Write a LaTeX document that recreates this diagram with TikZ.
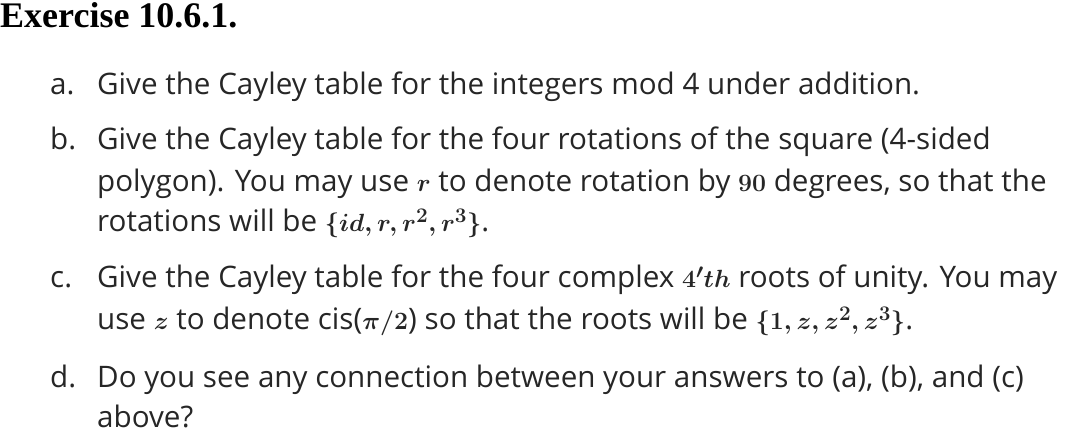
\documentclass[tikz,border=0pt]{standalone}
\usepackage{fontspec}
\setmainfont{Open Sans}
\newfontfamily\titlefont{Liberation Serif}
\begin{document}
\begin{tikzpicture}[x=1pt,y=1pt,
  txt/.style={anchor=base west,inner sep=0pt,font=\fontsize{29.6}{32}\selectfont,text=black!85}]
\useasboundingbox (0,0) rectangle (1080,438);
\node[txt,font=\fontsize{36}{40}\titlefont\bfseries,text=black] (t) at (0,410) {Exercise 10.6.1.};
\node[txt] (la) at (50,343) {a.};
\node[txt] (a1) at (97,343) {Give the Cayley table for the integers mod 4 under addition.};
\node[txt] (lb) at (50,288) {b.};
\node[txt] (b1) at (97,288) {Give the Cayley table for the four rotations of the square (4-sided};
\node[txt] (b2) at (97,246) {polygon). You may use {\boldmath$r$} to denote rotation by {\boldmath$90$} degrees, so that the};
\node[txt] (b3) at (97,206) {rotations will be {\boldmath$\{id,r,r^2,r^3\}$}.};
\node[txt] (lc) at (50,150) {c.};
\node[txt] (c1) at (97,150) {Give the Cayley table for the four complex {\boldmath$4'th$} roots of unity. You may};
\node[txt] (c2) at (97,108) {use {\boldmath$z$} to denote cis({\boldmath$\pi/2$}) so that the roots will be {\boldmath$\{1,z,z^2,z^3\}$}.};
\node[txt] (ld) at (50,50) {d.};
\node[txt] (d1) at (97,50) {Do you see any connection between your answers to (a), (b), and (c)};
\node[txt] (d2) at (97,10) {above?};
\end{tikzpicture}
\end{document}
